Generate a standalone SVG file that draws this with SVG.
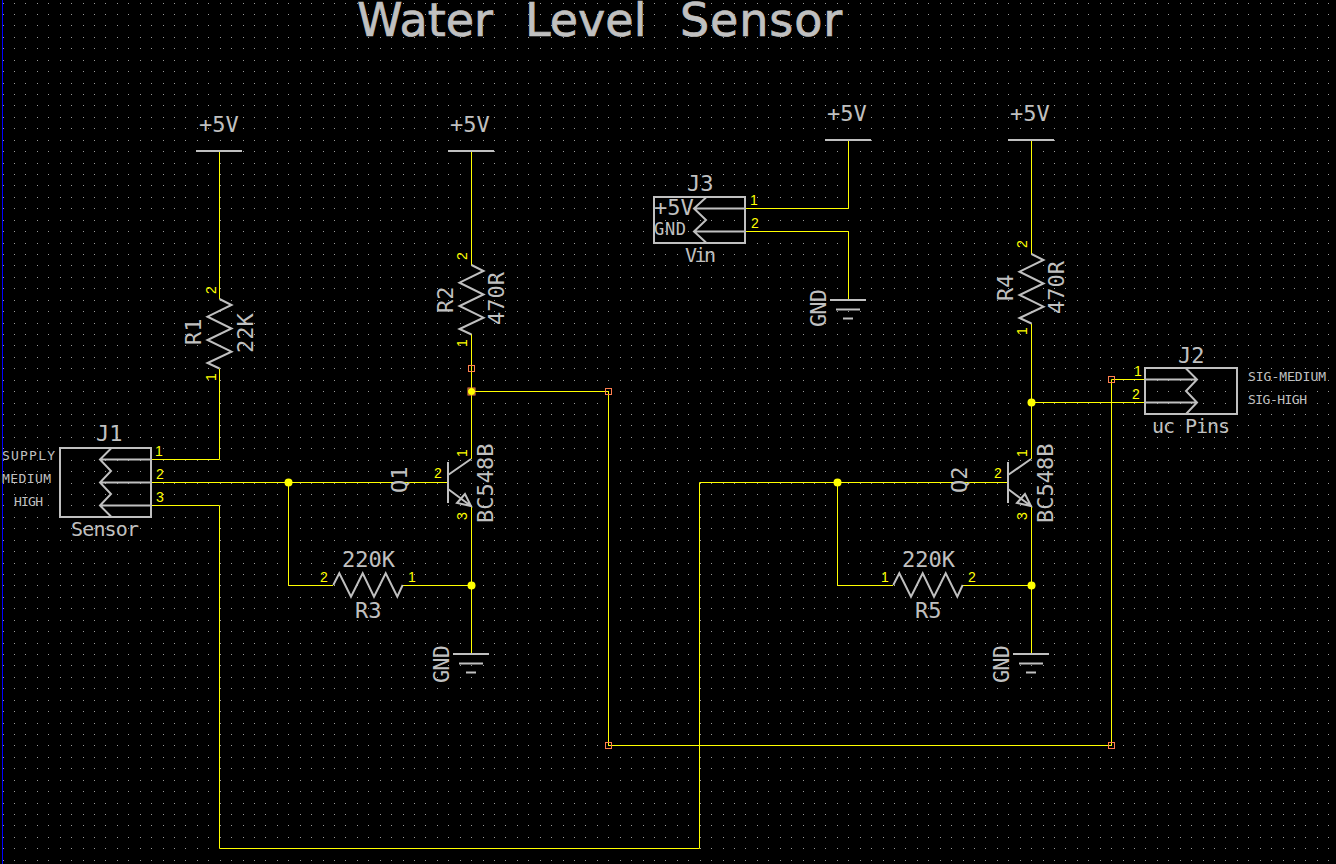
<svg xmlns="http://www.w3.org/2000/svg" xmlns:xlink="http://www.w3.org/1999/xlink" width="1336" height="864" viewBox="0 0 1336 864">
<style>
text{font-family:"DejaVu Sans Mono","Liberation Mono",monospace;fill:#c0c0c0;white-space:pre}
.s{fill:none;stroke:#c0c0c0;stroke-width:2}
.w{fill:none;stroke:#ffff00;stroke-width:1}
.h{fill:none;stroke:#ff7f50;stroke-width:1}
.j{fill:#ffff00}
.p{fill:#ffff00;font-size:14px;font-family:"Liberation Sans",Arial,sans-serif}
.l{font-size:22px}
.m{font-size:13px}
.t{font-size:46px;font-family:"DejaVu Sans",sans-serif;stroke:#c0c0c0;stroke-width:.7}
</style>
<defs>
<g id="row" fill="#999999">
<rect x="0" width="1" height="1"/><rect x="11" width="1" height="1"/><rect x="23" width="1" height="1"/><rect x="34" width="1" height="1"/><rect x="46" width="1" height="1"/><rect x="57" width="1" height="1"/><rect x="69" width="1" height="1"/>
</g>
<pattern id="grid" patternUnits="userSpaceOnUse" x="14" y="14" width="80" height="80">
<use xlink:href="#row" y="0"/><use xlink:href="#row" y="11"/><use xlink:href="#row" y="23"/><use xlink:href="#row" y="34"/><use xlink:href="#row" y="46"/><use xlink:href="#row" y="57"/><use xlink:href="#row" y="69"/>
</pattern>
<path id="rv" class="s" d="M0 0L12 6L-12 17.7L12 29.5L-12 41L12 52.7L-12 64L0 69.5"/>
<path id="rh" class="s" d="M0 0L6 -11.7L17.7 11.7L29.4 -11.7L40.7 11.7L52.4 -11.7L64 11.7L69.4 0"/>
<g id="vcc"><path class="s" d="M-23 0H23"/></g>
<g id="gnd"><path class="s" d="M-18 0H18M-12 9.5H12M-5 18.5H5"/></g>
<g id="npn"><path class="s" d="M0 -21V20M0 -8L23 -24M0 6L23 23M17 11L9 20L23 23Z"/></g>
</defs>
<rect id="background" width="1336" height="864" fill="#000"/>
<rect id="dots" width="1336" height="864" fill="url(#grid)"/>
<rect id="sheet-edge" x="2" y="0" width="1" height="864" fill="#0000ff"/>
<text id="title" class="t" y="36"><tspan x="357">Water </tspan><tspan x="525">Level </tspan><tspan x="680" letter-spacing="0.9">Sensor</tspan></text>

<g id="connectors">
<path class="w" d="M219.5 151V299M219.5 368.5V459.5H151"/>
<path class="w" d="M471.5 151V265M471.5 334V459M471.5 506V654"/>
<path class="w" d="M471.5 391.5H608.5V745.5H1111.5V379.5H1145"/>
<path class="w" d="M151 482.5H448M288.5 482.5V585.5H333M403 585.5H471.5"/>
<path class="w" d="M151 505.5H219.5V848.5H699.5V482.5H1008M837.5 482.5V585.5H893M963 585.5H1031.5"/>
<path class="w" d="M1031.5 140V254M1031.5 324V459M1031.5 506V654M1031.5 402.5H1145"/>
<path class="w" d="M745 208.5H848.5V140M745 231.5H848.5V300"/>
<circle class="j" cx="288.5" cy="482.5" r="4"/>
<circle class="j" cx="471.5" cy="585.5" r="4"/>
<circle class="j" cx="837.5" cy="482.5" r="4"/>
<circle class="j" cx="1031.5" cy="585.5" r="4"/>
<circle class="j" cx="1031.5" cy="402.5" r="4"/>
<rect class="h" x="468.5" y="365.5" width="6" height="6"/>
<rect class="h" x="468" y="388" width="7" height="7"/>
<circle class="j" cx="471.5" cy="391.5" r="3.5"/>
<rect class="h" x="605.5" y="388.5" width="6" height="6"/>
<rect class="h" x="605.5" y="742.5" width="6" height="6"/>
<rect class="h" x="1108.5" y="742.5" width="6" height="6"/>
<rect class="h" x="1108.5" y="376.5" width="6" height="6"/>
</g>

<g id="P1"><use xlink:href="#vcc" x="219" y="151"/><text class="l" x="199" y="132">+5V</text></g>
<g id="P2"><use xlink:href="#vcc" x="471" y="151"/><text class="l" x="450" y="132">+5V</text></g>
<g id="P3"><use xlink:href="#vcc" x="848" y="140"/><text class="l" x="827" y="121">+5V</text></g>
<g id="P4"><use xlink:href="#vcc" x="1031" y="140"/><text class="l" x="1010" y="121">+5V</text></g>

<g id="R1"><use xlink:href="#rv" x="219.5" y="299"/>
<text class="l" transform="translate(201 345) rotate(-90)">R1</text>
<text class="l" transform="translate(253 353) rotate(-90)">22K</text>
<text class="p" transform="translate(216 294) rotate(-90)">2</text>
<text class="p" transform="translate(216 381) rotate(-90)">1</text></g>

<g id="R2"><use xlink:href="#rv" x="471.5" y="265"/>
<text class="l" transform="translate(453 313) rotate(-90)">R2</text>
<text class="l" transform="translate(504 325) rotate(-90)">470R</text>
<text class="p" transform="translate(467 260) rotate(-90)">2</text>
<text class="p" transform="translate(467 347) rotate(-90)">1</text></g>

<g id="R4"><use xlink:href="#rv" x="1031.5" y="254"/>
<text class="l" transform="translate(1013 301) rotate(-90)">R4</text>
<text class="l" transform="translate(1064 314) rotate(-90)">470R</text>
<text class="p" transform="translate(1027 248) rotate(-90)">2</text>
<text class="p" transform="translate(1027 335) rotate(-90)">1</text></g>

<g id="R3"><use xlink:href="#rh" x="333.3" y="585"/>
<text class="l" x="342" y="567">220K</text>
<text class="l" x="355" y="618">R3</text>
<text class="p" x="320" y="582">2</text>
<text class="p" x="408" y="582">1</text></g>

<g id="R5"><use xlink:href="#rh" x="893.3" y="585"/>
<text class="l" x="902" y="567">220K</text>
<text class="l" x="915" y="618">R5</text>
<text class="p" x="881" y="582">1</text>
<text class="p" x="968" y="582">2</text></g>

<g id="Q1"><use xlink:href="#npn" x="448" y="483"/>
<text class="l" transform="translate(407 493) rotate(-90)">Q1</text>
<text class="l" transform="translate(493 523) rotate(-90)">BC548B</text>
<text class="p" x="434" y="478">2</text>
<text class="p" transform="translate(467 457) rotate(-90)">1</text>
<text class="p" transform="translate(467 520) rotate(-90)">3</text></g>

<g id="Q2"><use xlink:href="#npn" x="1008" y="483"/>
<text class="l" transform="translate(967 493) rotate(-90)">Q2</text>
<text class="l" transform="translate(1053 523) rotate(-90)">BC548B</text>
<text class="p" x="994" y="478">2</text>
<text class="p" transform="translate(1027 457) rotate(-90)">1</text>
<text class="p" transform="translate(1027 520) rotate(-90)">3</text></g>

<g id="G1"><use xlink:href="#gnd" x="471" y="654"/><text class="l" transform="translate(449 683) rotate(-90)" textLength="38">GND</text></g>
<g id="G2"><use xlink:href="#gnd" x="1031" y="654"/><text class="l" transform="translate(1009 683) rotate(-90)" textLength="38">GND</text></g>
<g id="G3"><use xlink:href="#gnd" x="848" y="300"/><text class="l" transform="translate(826 327) rotate(-90)" textLength="38">GND</text></g>

<g id="J1">
<rect class="s" x="60" y="448" width="91" height="69"/>
<path class="s" d="M111 448.5L100 459.5L111 471L100 482.5L111 494L100 505.5L111 516.5M100 459.5H151M100 482.5H151M100 505.5H151"/>
<text class="l" x="96" y="441">J1</text>
<text class="l" x="71" y="536" style="font-size:20px" textLength="68">Sensor</text>
<text class="m" x="2" y="460" textLength="53">SUPPLY</text>
<text class="m" x="2" y="483" textLength="49">MEDIUM</text>
<text class="m" x="14" y="506" textLength="29">HIGH</text>
<text class="p" x="155" y="456">1</text>
<text class="p" x="156" y="479">2</text>
<text class="p" x="156" y="502">3</text>
</g>

<g id="J2">
<rect class="s" x="1145" y="368" width="92" height="46"/>
<path class="s" d="M1186 368.5L1197 379.5L1186 391L1197 402.5L1186 414M1145 379.5H1197M1145 402.5H1197"/>
<text class="l" x="1178" y="363">J2</text>
<text class="l" x="1152" y="433" style="font-size:20px" textLength="78">uc Pins</text>
<text class="m" x="1248" y="381" textLength="78">SIG-MEDIUM</text>
<text class="m" x="1248" y="404" textLength="59">SIG-HIGH</text>
<text class="p" x="1134" y="376">1</text>
<text class="p" x="1132" y="399">2</text>
</g>

<g id="J3">
<rect class="s" x="654" y="197" width="91" height="46"/>
<path class="s" d="M706 197.5L694 208.5L706 220L694 231.5L706 242.5M694 208.5H745M694 231.5H745"/>
<text class="l" x="687" y="191">J3</text>
<text class="l" x="654" y="215">+5V</text>
<text class="l" x="654" y="235" style="font-size:17px" textLength="32">GND</text>
<text class="l" x="685" y="262" style="font-size:20px" textLength="31">Vin</text>
<text class="p" x="750" y="205">1</text>
<text class="p" x="751" y="228">2</text>
</g>
</svg>
